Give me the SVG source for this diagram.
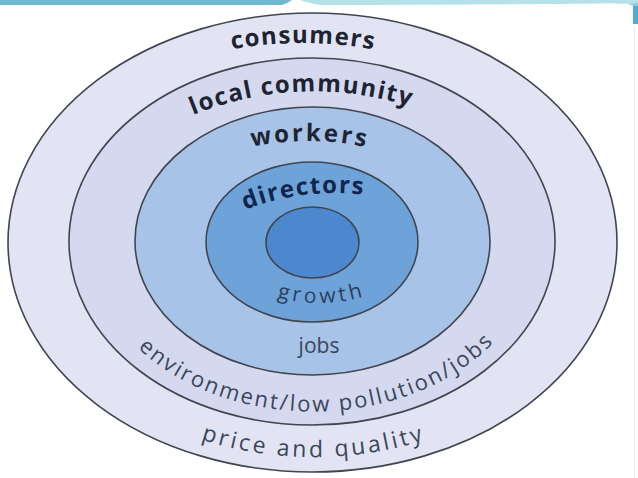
<svg xmlns="http://www.w3.org/2000/svg" width="638" height="478" viewBox="0 0 638 478">
  <style>
    .ring { stroke: #41454f; stroke-width: 1.6; }
    .top { font-family: "Open Sans", "Noto Sans", "Liberation Sans", sans-serif; font-weight: 700; font-size: 24px; fill: #1d2433; }
    .bot { font-family: "Open Sans", "Noto Sans", "Liberation Sans", sans-serif; font-weight: 400; font-size: 22px; fill: #3b465a; }
  </style>
  <defs>
    <path id="p-consumers" d="M232,49.2 A400,400 0 0 1 374,49.6"/>
    <path id="p-local" d="M193,115 A320,320 0 0 1 412,107"/>
    <path id="p-workers" d="M252,146.7 A280,280 0 0 1 366,147.1"/>
    <path id="p-directors" d="M245,209.8 A250,250 0 0 1 367,195"/>
    <path id="p-growth" d="M277,297.5 A160,160 0 0 0 366,296"/>
    <path id="p-env" d="M138,348 A224,169 0 0 0 497,339"/>
    <path id="p-price" d="M201,439.5 A283.6,214 0 0 0 428,439"/>
  </defs>
  <rect width="638" height="478" fill="#ffffff"/>
  <g id="banner">
    <path d="M0,0 H292 Q288,3 282,5 H0 Z" fill="#6fb8d3"/>
    <path d="M300,0 H638 V3 H620 Q612,4 320,5 Q308,3 300,0 Z" fill="#b5e2e8"/>
    <path d="M612,4 Q626,2 633,6 V22 H638 V3 Z" fill="#8fcbe0"/>
    <rect x="633" y="6" width="5" height="18" fill="#4faed0"/>
    <line x1="634.5" y1="26" x2="634.5" y2="478" stroke="#ececec" stroke-width="1"/>
  </g>
  <g id="consumers">
    <ellipse class="ring" cx="312.5" cy="242.5" rx="304.5" ry="229.5" fill="#e2e4f4"/>
    <text class="top"><textPath href="#p-consumers" textLength="142" lengthAdjust="spacing">consumers</textPath></text>
    <text class="bot" style="font-size:23px"><textPath href="#p-price" textLength="226" lengthAdjust="spacing">price and quality</textPath></text>
  </g>
  <g id="local-community">
    <ellipse class="ring" cx="312" cy="241.5" rx="243" ry="183.5" fill="#d4d9ef"/>
    <text class="top"><textPath href="#p-local" textLength="221" lengthAdjust="spacing">local community</textPath></text>
    <text class="bot"><textPath href="#p-env" textLength="388" lengthAdjust="spacing">environment/low pollution/jobs</textPath></text>
  </g>
  <g id="workers">
    <ellipse class="ring" cx="312.5" cy="241" rx="177.5" ry="134" fill="#a7c3e7"/>
    <text class="top"><textPath href="#p-workers" textLength="114" lengthAdjust="spacing">workers</textPath></text>
    <text class="bot" x="319" y="353" text-anchor="middle" style="font-size:21px">jobs</text>
  </g>
  <g id="directors">
    <ellipse class="ring" cx="312" cy="242" rx="106" ry="80" fill="#6ea3da"/>
    <text class="top" style="fill:#13254a"><textPath href="#p-directors" textLength="120" lengthAdjust="spacing">directors</textPath></text>
    <text class="bot" style="fill:#2d3d5c;font-size:21px"><textPath href="#p-growth" textLength="87" lengthAdjust="spacing">growth</textPath></text>
  </g>
  <g id="core">
    <ellipse class="ring" cx="312.5" cy="242.5" rx="46.5" ry="35.5" fill="#4d88cf"/>
  </g>
</svg>
